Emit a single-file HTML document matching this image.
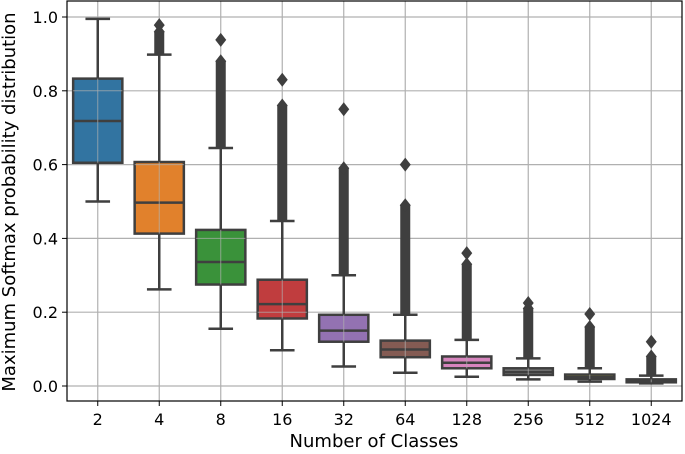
<!DOCTYPE html>
<html><head><meta charset="utf-8"><style>body{margin:0;background:#fff}svg{display:block;font-family:"DejaVu Sans","Liberation Sans",sans-serif}</style></head>
<body>
<svg id="chart" width="685" height="454"></svg>
<script>
const categories=["2","4","8","16","32","64","128","256","512","1024"];
const q1=[0.605,0.413,0.275,0.183,0.120,0.078,0.048,0.030,0.019,0.010];
const q3=[0.833,0.607,0.423,0.288,0.193,0.123,0.080,0.048,0.031,0.018];
const medians=[0.718,0.497,0.336,0.222,0.150,0.099,0.063,0.038,0.024,0.014];
const whiskLo=[0.50,0.262,0.155,0.097,0.053,0.036,0.025,0.018,0.012,0.007];
const whiskHi=[0.995,0.898,0.645,0.447,0.300,0.193,0.125,0.075,0.048,0.028];
const flierDense=[null,0.96,0.88,0.76,0.59,0.49,0.33,0.21,0.16,0.08];
const flierMax=[null,0.978,0.938,0.83,0.75,0.60,0.36,0.225,0.195,0.12];
const yTicks=[0,0.2,0.4,0.6,0.8,1.0];
const yTickLabels=["0.0","0.2","0.4","0.6","0.8","1.0"];
const colors=["#3274a1","#e1812c","#3a923a","#c03d3e","#9372b2","#845b53","#d684bd","#7f7f7f","#a9aa35","#2e9ebd"];
const L=67,R=682,T=1,B=401;
const y=v=>386-v*369;
const step=(R-L)/categories.length;
const x=i=>L+step*(i+0.5);
const svg=document.getElementById('chart');
const NS='http://www.w3.org/2000/svg';
function mk(tag,attrs,parent){const e=document.createElementNS(NS,tag);for(const k in attrs)e.setAttribute(k,attrs[k]);(parent||svg).appendChild(e);return e;}
const dark='#3f3f3f';
yTicks.forEach((t,i)=>{
 const g=mk('line',{x1:L,x2:R,y1:y(t),y2:y(t),stroke:'#b0b0b0','stroke-width':1.2});
 
 
 mk('line',{x1:L-5,x2:L,y1:y(t),y2:y(t),stroke:'#000','stroke-width':1});
 const tx=mk('text',{x:L-9,y:y(t)+6,'text-anchor':'end','font-size':16,fill:'#000'});
 tx.textContent=yTickLabels[i];
 
 
});
categories.forEach((c,i)=>{
 const g=mk('line',{x1:x(i),x2:x(i),y1:T,y2:B,stroke:'#b0b0b0','stroke-width':1.2});
 
 
 mk('line',{x1:x(i),x2:x(i),y1:B,y2:B+5,stroke:'#000','stroke-width':1});
 const tx=mk('text',{x:x(i),y:B+24,'text-anchor':'middle','font-size':16,fill:'#000'});
 tx.textContent=c;
 
 
});
const bw=step*0.8;
categories.forEach((c,i)=>{
 const g=mk('g',{});
 
 
 const cx=x(i);
 mk('line',{x1:cx,x2:cx,y1:y(whiskLo[i]),y2:y(q1[i]),stroke:dark,'stroke-width':2.5},g);
 mk('line',{x1:cx,x2:cx,y1:y(q3[i]),y2:y(whiskHi[i]),stroke:dark,'stroke-width':2.5},g);
 mk('line',{x1:cx-bw/4,x2:cx+bw/4,y1:y(whiskLo[i]),y2:y(whiskLo[i]),stroke:dark,'stroke-width':2.5},g);
 mk('line',{x1:cx-bw/4,x2:cx+bw/4,y1:y(whiskHi[i]),y2:y(whiskHi[i]),stroke:dark,'stroke-width':2.5},g);
 if(flierDense[i]!==null){
  mk('line',{x1:cx,x2:cx,y1:y(whiskHi[i]),y2:y(flierDense[i]),stroke:dark,'stroke-width':10},g);
  [flierDense[i],flierMax[i]].forEach(v=>{
   const py=y(v);
   mk('polygon',{points:`${cx},${py-7} ${cx+5.5},${py} ${cx},${py+7} ${cx-5.5},${py}`,fill:dark},g);
  });
 }
 const top=y(q3[i]),bot=y(q1[i]);
 mk('rect',{x:cx-bw/2,y:top,width:bw,height:Math.max(bot-top,1),fill:colors[i],stroke:dark,'stroke-width':2.5},g);
 mk('line',{x1:cx-bw/2,x2:cx+bw/2,y1:y(medians[i]),y2:y(medians[i]),stroke:dark,'stroke-width':2.5},g);
});
categories.forEach((c,i)=>{mk('line',{x1:x(i),x2:x(i),y1:y(q3[i]),y2:y(q1[i]),stroke:'#b0b0b0','stroke-width':1,opacity:0.7});});
yTicks.forEach(t=>{categories.forEach((c,i)=>{if(t<q3[i]&&t>q1[i])mk('line',{x1:x(i)-bw/2,x2:x(i)+bw/2,y1:y(t),y2:y(t),stroke:'#b0b0b0','stroke-width':1,opacity:0.7});});});
const fr=mk('rect',{x:L,y:T,width:R-L,height:B-T,fill:'none',stroke:'#000','stroke-width':1.2});


const xt=mk('text',{x:374,y:447,'text-anchor':'middle','font-size':18,fill:'#000'});
xt.textContent='Number of Classes';


const yt=mk('text',{x:0,y:0,'text-anchor':'middle','font-size':18,fill:'#000',transform:`translate(15,202) rotate(-90)`});
yt.textContent='Maximum Softmax probability distribution';


</script>
</body></html>
